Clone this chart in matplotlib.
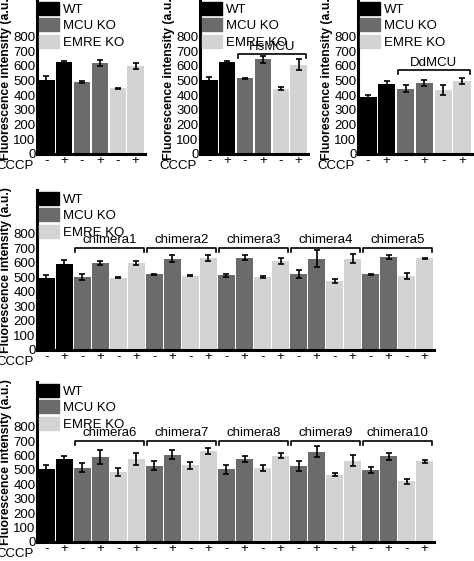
import matplotlib
matplotlib.use("Agg")
import matplotlib.pyplot as plt
from matplotlib.patches import Patch

plt.rcParams['font.family'] = ['Liberation Sans', 'DejaVu Sans']

cccp = ['-', '+']
legend_labels = ['WT', 'MCU KO', 'EMRE KO']
colors = ['#000000', '#6b6b6b', '#d3d3d3']

p1_vals = [505, 628, 490, 618, 447, 600]
p1_err = [25, 8, 8, 20, 5, 18]
p2_vals = [505, 628, 515, 645, 445, 610]
p2_err = [20, 5, 5, 22, 12, 35]
p3_vals = [388, 477, 445, 483, 435, 497]
p3_err = [15, 20, 25, 20, 35, 20]

mid_vals = [497, 588, 502, 597, 497, 600, 520, 628, 512, 630, 515, 635, 500, 612,
            522, 628, 475, 628, 520, 640, 510, 630]
mid_err = [20, 30, 20, 15, 5, 15, 5, 25, 5, 20, 10, 15, 8, 20, 25, 60, 15, 30, 3, 15, 20, 5]
mid_groups = ['chimera1', 'chimera2', 'chimera3', 'chimera4', 'chimera5']

bot_vals = [508, 578, 515, 590, 485, 575, 530, 607, 532, 633, 505, 578, 512, 600,
            527, 627, 468, 565, 498, 595, 420, 560]
bot_err = [25, 20, 30, 50, 25, 40, 30, 30, 25, 20, 30, 20, 20, 20, 35, 40, 10, 40, 20, 25, 15, 10]
bot_groups = ['chimera6', 'chimera7', 'chimera8', 'chimera9', 'chimera10']

W, H = 474, 561
fig = plt.figure(figsize=(W/100, H/100), dpi=100)

def make_ax(l, r, top, bottom, ytop):
    ax = fig.add_axes([l/W, 1-bottom/H, (r-l)/W, (bottom-top)/H])
    ax.set_ylim(0, ytop)
    for s in ['top', 'right']:
        ax.spines[s].set_visible(False)
    for s in ['left', 'bottom']:
        ax.spines[s].set_linewidth(2.2)
    ax.set_yticks(range(0, 801, 100))
    ax.tick_params(length=0, labelsize=9.5, pad=1)
    ax.set_ylabel('Fluorescence intensity (a.u.)', fontsize=8.8, fontweight='bold')
    ax.yaxis.set_label_coords(-25 / (r - l), 0.5)
    return ax

def draw(ax, vals, errs, cols):
    n = len(vals)
    x = list(range(n))
    ax.bar(x, vals, width=0.93, color=cols, yerr=errs, capsize=2,
           error_kw=dict(elinewidth=1.2, capthick=1.2, ecolor='black'))
    ax.set_xlim(-0.52, n - 0.48)
    ax.set_xticks(x)
    ax.set_xticklabels([cccp[i % 2] for i in x], fontsize=9.5)
    handles = [Patch(color=c) for c in colors]
    ax.legend(handles, legend_labels, loc='upper left', frameon=False, fontsize=9.5,
              handlelength=1.5, handleheight=1.1, handletextpad=0.3, labelspacing=0.2,
              borderaxespad=0.05, borderpad=0.1, bbox_to_anchor=(0.0, 1.0))
    ax.annotate('CCCP', xy=(0, 0), xycoords='axes fraction', xytext=(-2, -4),
                textcoords='offset points', ha='right', va='top', fontsize=9.5)

def bracket(ax, x0, x1, y, label, h=25):
    ax.plot([x0, x0, x1, x1], [y - h, y, y, y - h], color='black', lw=1.2, clip_on=False)
    ax.text((x0 + x1) / 2, y + 12, label, ha='center', va='bottom', fontsize=9.5)

top_cols = [colors[0]] * 2 + [colors[1]] * 2 + [colors[2]] * 2

ax1 = make_ax(37, 145, 0, 154, 1050)
draw(ax1, p1_vals, p1_err, top_cols)
ax2 = make_ax(200, 308, 0, 154, 1050)
draw(ax2, p2_vals, p2_err, top_cols)
bracket(ax2, 1.6, 5.4, 680, 'HsMCU')
ax3 = make_ax(358, 472, 0, 154, 1050)
draw(ax3, p3_vals, p3_err, top_cols)
bracket(ax3, 1.6, 5.4, 570, 'DdMCU')

chim_cols = [colors[0]] * 2 + ([colors[1]] * 2 + [colors[2]] * 2) * 5

ax4 = make_ax(37, 434, 190, 350, 1100)
draw(ax4, mid_vals, mid_err, chim_cols)
for i, g in enumerate(mid_groups):
    bracket(ax4, 2 + 4 * i - 0.4, 5 + 4 * i + 0.4, 700, g)

ax5 = make_ax(37, 434, 382, 542, 1110)
draw(ax5, bot_vals, bot_err, chim_cols)
for i, g in enumerate(bot_groups):
    bracket(ax5, 2 + 4 * i - 0.4, 5 + 4 * i + 0.4, 700, g)

fig.savefig('out.png', dpi=100)
